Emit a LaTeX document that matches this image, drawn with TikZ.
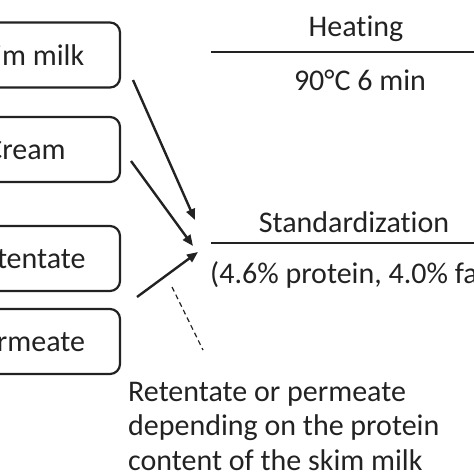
\documentclass[tikz,border=0pt]{standalone}
\usepackage{fontspec}
\setmainfont{Carlito}[Ligatures=NoCommon, RawFeature={-liga;-clig;-calt}]
\usepackage{xcolor}
\usetikzlibrary{arrows.meta}

\definecolor{ink}{HTML}{222222}

\begin{document}
\begin{tikzpicture}[x=1pt, y=-1pt]
        % Define styles
        \tikzset{
            source/.style={rectangle, rounded corners=10pt, draw=ink, line width=2.2pt, minimum width=188pt, minimum height=65pt, text=ink, font=\fontsize{30}{36}\selectfont},
            label/.style={inner sep=0pt, text=ink, font=\fontsize{30}{36}\selectfont},
            rule/.style={draw=ink, line width=2.2pt},
            arrow/.style={-{Triangle[length=11pt,width=9pt]}, draw=ink, line width=2.4pt},
            guide/.style={draw=ink, dash pattern=on 5pt off 3.5pt, line width=1.2pt}
        }
        \useasboundingbox (0,0) rectangle (474,474);
        \clip (0,0) rectangle (474,474);

        % Nodes
        \node[source] (skim_node) at (26,55) {Skim milk};
        \node[source] (cream_node) at (26,149.5) {Cream};
        \node[source] (retentate_node) at (26,258.5) {Retentate};
        \node[source] (permeate_node) at (26,341.5) {Permeate};

        \node[label, anchor=base] (heating_node) at (356,36) {Heating};
        \node[label, anchor=base] (heating_cond) at (360,90) {90°C 6 min};
        \node[label, anchor=base] (std_node) at (354,232) {Standardization};
        \node[label, anchor=base west] (std_cond) at (210,283) {(4.6\% protein, 4.0\% fat)};
        \node[label, anchor=north west, align=left] (note_node) at (128,382)
            {Retentate or permeate\\[-1.5pt] depending on the protein\\[-1.5pt] content of the skim milk};

        % Coordinates
        \coordinate (heat_l) at (211,52);
        \coordinate (heat_r) at (520,52);
        \coordinate (std_l) at (211,243);
        \coordinate (std_r) at (520,243);
        \coordinate (from_skim) at (133,80);
        \coordinate (from_cream) at (131,161);
        \coordinate (from_ret) at (137,297);
        \coordinate (tip_skim) at (195,220);
        \coordinate (tip_cream) at (193,246);
        \coordinate (tip_ret) at (198,252);
        \coordinate (dash_top) at (172,287);
        \coordinate (dash_bot) at (203,350);

        % Lines
        \draw[rule] (heat_l) -- (heat_r);
        \draw[rule] (std_l) -- (std_r);

        % Arrows
        \draw[arrow] (from_skim) -- (tip_skim);
        \draw[arrow] (from_cream) -- (tip_cream);
        \draw[arrow] (from_ret) -- (tip_ret);
        \draw[guide] (dash_top) -- (dash_bot);
    \end{tikzpicture}
\end{document}
